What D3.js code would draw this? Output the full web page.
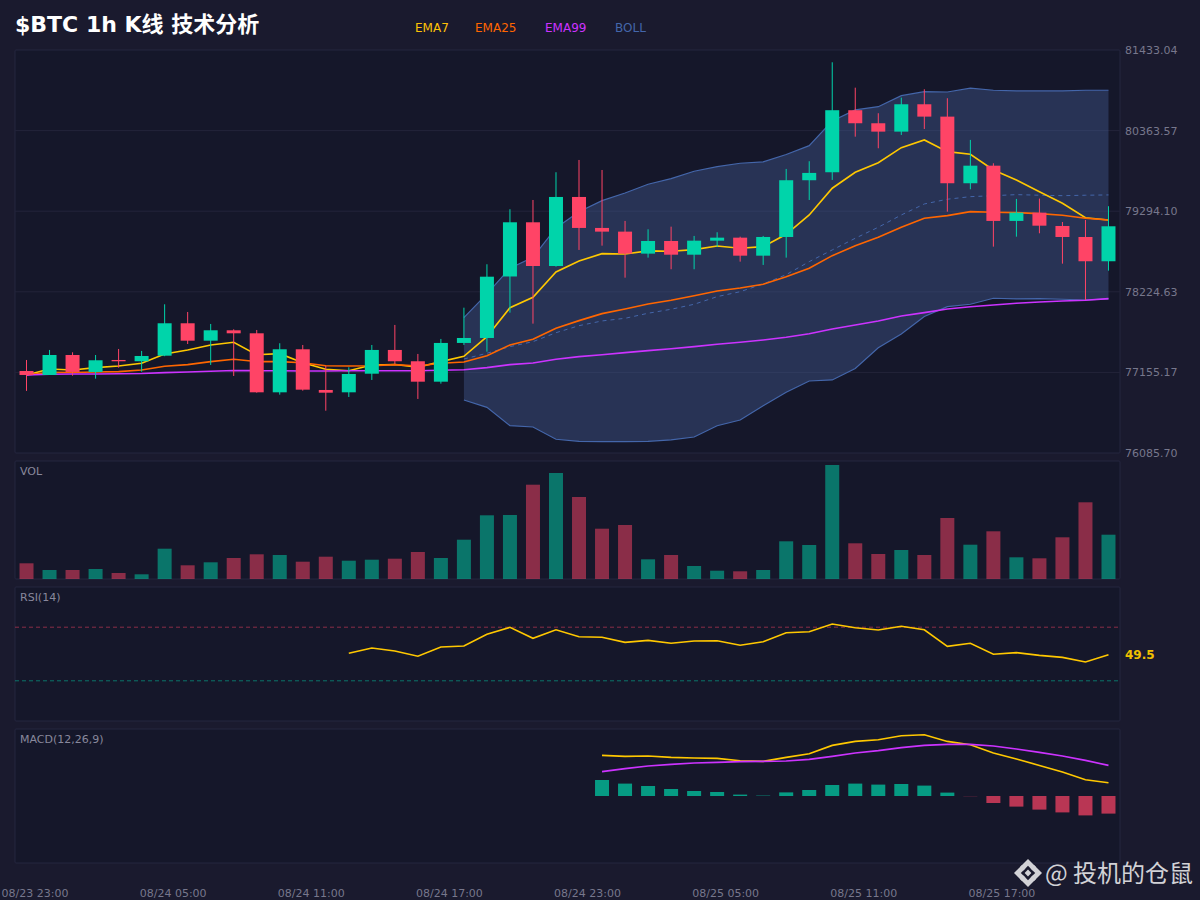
<!DOCTYPE html>
<html lang="en">
<head>
<meta charset="utf-8">
<title>$BTC 1h K线 技术分析</title>
<script src="https://d3js.org/d3.v7.min.js"></script>
<style>
  html, body { margin: 0; padding: 0; background: #1a1a2e; }
  svg { display: block; }
  text { font-family: "DejaVu Sans", "Noto Sans CJK SC", sans-serif; }
</style>
</head>
<body>
<div id="chart"></div>
<script>
// candles, 1h, first one is 08/23 23:00
const opens = [77174,77121,77386,77161,77320,77303,77377,77807,77576,77714,77674,76891,77462,76922,76891,77138,77453,77303,77032,77546,77612,78428,79147,78567,79483,79072,79023,78731,78899,78717,78903,78943,78704,78952,79705,79811,80634,80461,80350,80713,80549,79665,79898,79165,79275,79098,78952,78630];
const closes = [77121,77386,77161,77316,77303,77373,77807,77576,77714,77674,76891,77462,76926,76886,77134,77453,77303,77032,77546,77612,78425,79147,78567,79483,79072,79023,78731,78899,78717,78903,78943,78704,78952,79705,79802,80634,80461,80350,80713,80549,79665,79898,79165,79275,79102,78952,78630,79094];
const highs = [77320,77453,77422,77386,77466,77440,78059,77957,77798,77727,77718,77542,77519,77240,77223,77519,77785,77400,77599,78014,78590,79320,79443,79811,79974,79841,79165,79054,79089,78966,79015,78956,78966,79855,79957,81270,80933,80594,80801,80912,80793,80240,79930,79457,79461,79151,79178,79360];
const lows = [76910,77121,77112,77072,77218,77165,77370,77532,77254,77108,76886,76860,76913,76647,76829,77055,77267,76803,77006,77519,77430,77948,77802,78558,78780,78837,78412,78678,78524,78524,78820,78625,78581,78678,79443,79709,80283,80129,80306,80385,79288,79585,78824,78956,79001,78598,78116,78505];
const volumes = [157,90,90,100,60,47,303,137,167,210,247,240,173,223,183,193,203,270,210,393,637,640,943,1060,820,503,540,197,240,130,83,77,90,377,340,1140,357,250,290,240,610,343,477,217,207,417,767,443];

const ema7 = [77121,77201,77187,77218,77240,77276,77400,77453,77519,77555,77390,77404,77284,77197,77178,77254,77259,77223,77298,77369,77629,78014,78152,78488,78634,78731,78727,78767,78763,78784,78833,78802,78824,78988,79244,79599,79811,79938,80137,80240,80084,80050,79841,79709,79553,79399,79208,79178];
const ema25 = [77121,77157,77154,77161,77165,77187,77236,77258,77298,77329,77298,77298,77284,77244,77240,77244,77258,77240,77276,77294,77377,77519,77595,77741,77842,77935,77997,78063,78112,78173,78236,78276,78325,78425,78537,78704,78837,78948,79081,79200,79235,79288,79280,79275,79262,79240,79200,79178];
const ema99 = [77121,77130,77134,77134,77138,77141,77152,77161,77170,77181,77178,77178,77174,77174,77178,77178,77178,77178,77183,77191,77218,77258,77280,77329,77364,77390,77417,77444,77470,77497,77528,77555,77586,77621,77669,77731,77785,77838,77904,77948,77997,78027,78050,78073,78090,78103,78112,78134];

// bollinger only exists from candle 19 on
const bollStart = 19;
const bollUpper = [77881,78196,78537,78683,79072,79288,79434,79536,79652,79726,79824,79885,79930,79948,80047,80164,80492,80638,80681,80827,80880,80876,80926,80899,80890,80890,80890,80899,80899];
const bollMid = [77333,77409,77497,77563,77682,77775,77838,77873,77940,77993,78059,78160,78226,78329,78452,78625,78780,78935,79081,79244,79390,79453,79487,79500,79514,79506,79500,79506,79510];
const bollLower = [76789,76692,76448,76431,76268,76241,76236,76236,76241,76259,76298,76448,76524,76714,76891,77041,77055,77207,77483,77665,77897,78027,78059,78139,78130,78134,78126,78116,78130];

const rsiStart = 14;
const rsi = [50.5,54.5,52.2,48.3,55.2,56,64.7,69.9,61.7,68.1,62.9,62.5,58.7,60.2,58,59.7,59.9,56.5,59.2,65.9,66.6,72.4,69.6,67.9,70.7,68.1,55.7,58,49.8,51,49,47.5,44,49.5];

const macdStart = 25;
const macdLine = [203,198,200,193,190,188,176,173,193,211,253,273,281,301,306,273,256,215,185,153,120,81,66];
const macdSignal = [122,137,150,158,165,168,172,173,175,183,198,215,227,242,253,258,258,250,235,218,200,178,153];
const macdHist = [80,62,50,35,25,20,7,2,18,30,55,62,57,60,52,17,-1,-35,-53,-68,-82,-97,-88];

const priceTicks = [76085.70,77155.17,78224.63,79294.10,80363.57,81433.04];
const timeLabels = ["08/23 23:00","08/24 05:00","08/24 11:00","08/24 17:00","08/24 23:00","08/25 05:00","08/25 11:00","08/25 17:00"];
const legendNames = ["EMA7","EMA25","EMA99","BOLL"];

const green = "#00d4aa", red = "#ff4466", yellow = "#ffc800", orange = "#ff6600", purple = "#cc33ff", bollBlue = "#4466aa";
const gridColor = "#23243a", borderColor = "#25263f", plotBg = "#15172a", axisText = "#77778c";

const width = 1200, height = 900;
const left = 15, right = 1120;
const panels = {
	main: {top: 50, bottom: 453},
	vol: {top: 461, bottom: 579},
	rsi: {top: 587, bottom: 721},
	macd: {top: 729, bottom: 863}
};

const svg = d3.select("#chart").append("svg")
	.attr("width", width).attr("height", height)
	.attr("viewBox", [0, 0, width, height]);

const idx = d3.range(opens.length);
const x = d3.scaleBand().domain(idx).range([left, right]);
const cx = i => x(i) + x.bandwidth() / 2;
const barW = 14;

const y = d3.scaleLinear().domain([priceTicks[0], priceTicks[5]]).range([panels.main.bottom, panels.main.top]);
const yVol = d3.scaleLinear().domain([0, 1180]).range([panels.vol.bottom, panels.vol.top]);
const yRsi = d3.scaleLinear().domain([0, 100]).range([panels.rsi.bottom, panels.rsi.top]);
const yMacd = d3.scaleLinear().domain([-335, 335]).range([panels.macd.bottom, panels.macd.top]);

// panel backgrounds
Object.values(panels).forEach(p => {
	svg.append("rect")
		.attr("x", left).attr("y", p.top)
		.attr("width", right - left).attr("height", p.bottom - p.top)
		.attr("rx", 1)
		.attr("fill", plotBg).attr("stroke", borderColor).attr("stroke-width", 1);
});

// grid
svg.append("g").selectAll("line")
	.data(priceTicks.slice(1, 5))
	.join("line")
	.attr("x1", left).attr("x2", right)
	.attr("y1", d => y(d)).attr("y2", d => y(d))
	.attr("stroke", gridColor).attr("stroke-width", 1);

// bollinger band
const bollIdx = d3.range(bollUpper.length);
const bollX = i => cx(i + bollStart);
svg.append("path")
	.datum(bollIdx)
	.attr("fill", "#4a64a0").attr("fill-opacity", 0.37)
	.attr("d", d3.area().x(bollX).y0(i => y(bollLower[i])).y1(i => y(bollUpper[i])));

const drawLine = (series, scale, start, color, w, dash) => svg.append("path")
	.datum(series)
	.attr("fill", "none")
	.attr("stroke", color)
	.attr("stroke-width", w)
	.attr("stroke-dasharray", dash || null)
	.attr("d", d3.line().x((d, i) => cx(i + start)).y(d => scale(d)));

drawLine(bollUpper, y, bollStart, bollBlue, 1.2);
drawLine(bollLower, y, bollStart, bollBlue, 1.2);
drawLine(bollMid, y, bollStart, bollBlue, 1, "4,4");
drawLine(ema7, y, 0, yellow, 1.6);
drawLine(ema25, y, 0, orange, 1.6);
drawLine(ema99, y, 0, purple, 1.6);

// candles on top of the lines
const candles = svg.append("g").selectAll("g").data(idx).join("g");
const candleColor = i => closes[i] >= opens[i] ? green : red;
candles.append("line")
	.attr("x1", cx).attr("x2", cx)
	.attr("y1", i => y(highs[i])).attr("y2", i => y(lows[i]))
	.attr("stroke", candleColor).attr("stroke-width", 1);
candles.append("rect")
	.attr("x", i => cx(i) - barW / 2)
	.attr("width", barW)
	.attr("y", i => y(Math.max(opens[i], closes[i])))
	.attr("height", i => Math.abs(y(opens[i]) - y(closes[i])))
	.attr("fill", candleColor);

// volume
svg.append("g").selectAll("rect").data(idx).join("rect")
	.attr("x", i => cx(i) - barW / 2)
	.attr("width", barW)
	.attr("y", i => yVol(volumes[i]))
	.attr("height", i => yVol(0) - yVol(volumes[i]))
	.attr("fill", candleColor)
	.attr("fill-opacity", 0.5);

// rsi
[[70, red], [30, green]].forEach(([lvl, c]) => {
	svg.append("line")
		.attr("x1", left).attr("x2", right)
		.attr("y1", yRsi(lvl)).attr("y2", yRsi(lvl))
		.attr("stroke", c).attr("stroke-opacity", 0.5)
		.attr("stroke-dasharray", "4,3");
});
drawLine(rsi, yRsi, rsiStart, yellow, 1.6);

// macd
svg.append("g").selectAll("rect").data(macdHist).join("rect")
	.attr("x", (d, i) => cx(i + macdStart) - barW / 2)
	.attr("width", barW)
	.attr("y", d => yMacd(Math.max(d, 0)))
	.attr("height", d => Math.abs(yMacd(d) - yMacd(0)))
	.attr("fill", d => d >= 0 ? green : red)
	.attr("fill-opacity", 0.7);
drawLine(macdLine, yMacd, macdStart, yellow, 1.6);
drawLine(macdSignal, yMacd, macdStart, purple, 1.6);

// axes
const yAxis = svg.append("g")
	.attr("transform", `translate(${right},0)`)
	.call(d3.axisRight(y).tickValues(priceTicks).tickFormat(d3.format(".2f")).tickSize(0).tickPadding(5));
yAxis.select(".domain").remove();
yAxis.selectAll("text").attr("fill", axisText).style("font-size", "11px");

const xAxis = svg.append("g")
	.attr("transform", `translate(8.5,${panels.macd.bottom + 21})`)
	.call(d3.axisBottom(x)
		.tickValues(idx.filter(i => i % 6 === 0))
		.tickFormat(i => timeLabels[i / 6])
		.tickSize(0).tickPadding(5));
xAxis.select(".domain").remove();
xAxis.selectAll("text").attr("fill", axisText).style("font-size", "11px");

// panel captions
const captions = [["VOL", panels.vol.top], ["RSI(14)", panels.rsi.top], ["MACD(12,26,9)", panels.macd.top]];
svg.append("g").selectAll("text").data(captions).join("text")
	.attr("x", left + 5)
	.attr("y", d => d[1] + 14)
	.attr("fill", "#88889c")
	.style("font-size", "11px")
	.text(d => d[0]);

svg.append("text")
	.attr("x", 1125).attr("y", yRsi(rsi[rsi.length - 1]) + 4.5)
	.attr("fill", "#f0c000")
	.style("font-size", "12px").style("font-weight", "bold")
	.text(rsi[rsi.length - 1].toFixed(1));

// title and legend
svg.append("text")
	.attr("x", 15).attr("y", 32)
	.attr("fill", "#ffffff")
	.style("font-size", "22px").style("font-weight", "bold")
	.text("$BTC 1h K线 技术分析");

const legendX = [415, 475, 545, 615];
const legendColor = ["#ffc107", orange, purple, bollBlue];
svg.append("g").selectAll("text").data(legendNames).join("text")
	.attr("x", (d, i) => legendX[i]).attr("y", 32)
	.attr("fill", (d, i) => legendColor[i])
	.style("font-size", "12px")
	.text(d => d);

// watermark
const mark = svg.append("g").attr("transform", "translate(1028,873)").attr("fill", "#d2d2d6");
const chevron = "M0,-14 L8,-6 L4.6,-2.6 L0,-7.2 L-4.6,-2.6 L-8,-6 Z";
[0, 90, 180, 270].forEach(a => {
	mark.append("path").attr("d", chevron).attr("transform", `rotate(${a})`);
});
mark.append("path").attr("d", "M0,-3.4 L3.4,0 L0,3.4 L-3.4,0 Z");

svg.append("text")
	.attr("x", 1045).attr("y", 882)
	.attr("fill", "#d2d2d6")
	.style("font-family", '"Noto Sans CJK SC", sans-serif')
	.style("font-size", "24px")
	.text("@ 投机的仓鼠");
</script>
</body>
</html>
